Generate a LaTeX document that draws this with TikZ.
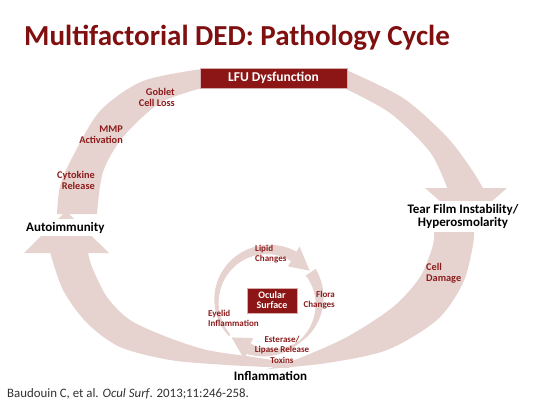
\documentclass[tikz,border=0pt]{standalone}
\usepackage{fontspec}
\setmainfont{Carlito}
\definecolor{bandc}{RGB}{230,211,207}
\definecolor{titred}{RGB}{128,16,16}
\definecolor{boxred}{RGB}{140,22,22}
\definecolor{lblred}{RGB}{140,28,28}
\definecolor{citegray}{RGB}{50,50,50}
\tikzset{
  band/.style={fill=bandc, draw=none},
  bigblack/.style={font=\fontsize{13}{13.5}\selectfont\bfseries, text=black, inner sep=0pt},
  outlbl/.style={font=\fontsize{10.3}{11.5}\selectfont\bfseries, text=lblred, inner sep=0pt},
  inlbl/.style={font=\fontsize{9}{10.5}\selectfont\bfseries, text=lblred, inner sep=0pt},
  redbox/.style={fill=boxred, text=white, inner sep=0pt, draw=boxred!35, line width=1pt},
  whitebg/.style={fill=white, inner xsep=2pt, inner ysep=3pt}
}
\begin{document}
\begin{tikzpicture}[x=1pt,y=-1pt]
\useasboundingbox (0,0) rectangle (540,405);

% ---- big cycle bands ----
% Autoimmunity -> LFU
\fill[band] plot[smooth] coordinates {(57,214) (60,186) (72,158) (100,111) (143,81) (202,69)}
  -- plot[smooth] coordinates {(202,88) (160,103) (123,137) (103,172) (97,214)} -- cycle;
% LFU -> Tear film
\fill[band] plot[smooth] coordinates {(344,69) (403,98) (447,137) (472,170) (484,190)}
  -- plot[smooth] coordinates {(448,190) (430,152) (390,113) (344,88)} -- cycle;
\fill[band] (425,188) -- (507,188) -- (466,224) -- cycle;
% Tear film -> Inflammation
\fill[band] plot[smooth] coordinates {(474,226) (473,245) (463,283) (437,320) (387,350) (327,363) (268,369)}
  -- plot[smooth] coordinates {(300,358) (347,337) (393,307) (420,277) (433,245) (434,226)} -- cycle;
% Inflammation -> Autoimmunity
\fill[band] plot[smooth] coordinates {(290,368) (227,365) (170,360) (120,347) (87,323) (63,290) (50,252)}
  -- plot[smooth] coordinates {(88,252) (92,267) (107,297) (130,320) (167,337) (207,350) (253,357) (285,362)} -- cycle;
\fill[band] (24,253) -- (109,253) -- (66,211) -- cycle;

% ---- inner cycle ----
\fill[band] plot[domain=222:60,samples=50] ({268+(51.5+1+4.5*(222-\x)/162)*cos(\x)},{301-(51.5+1+4.5*(222-\x)/162)*sin(\x)})
  -- plot[domain=60:222,samples=50] ({268+(51.5-1-4.5*(222-\x)/162)*cos(\x)},{301-(51.5-1-4.5*(222-\x)/162)*sin(\x)}) -- cycle;
\fill[band] ({268+63*cos(60)},{301-63*sin(60)}) -- ({268+51.5*cos(36)},{301-51.5*sin(36)}) -- ({268+40*cos(60)},{301-40*sin(60)}) -- cycle;
\fill[band] plot[domain=34:-62,samples=50] ({268+(51.5+0.3+5.7*(\x+62)/96)*cos(\x)},{301-(51.5+0.3+5.7*(\x+62)/96)*sin(\x)})
  -- plot[domain=-62:34,samples=50] ({268+(51.5-0.3-5.7*(\x+62)/96)*cos(\x)},{301-(51.5-0.3-5.7*(\x+62)/96)*sin(\x)}) -- cycle;
\fill[band] plot[domain=-48:-112,samples=40] ({268+(51.5+0.3+5.2*(-48-\x)/64)*cos(\x)},{301-(51.5+0.3+5.2*(-48-\x)/64)*sin(\x)})
  -- plot[domain=-112:-48,samples=40] ({268+(51.5-0.3-5.2*(-48-\x)/64)*cos(\x)},{301-(51.5-0.3-5.2*(-48-\x)/64)*sin(\x)}) -- cycle;
\fill[band] ({268+63*cos(-112)},{301-63*sin(-112)}) -- ({268+51.5*cos(-135)},{301-51.5*sin(-135)}) -- ({268+40*cos(-112)},{301-40*sin(-112)}) -- cycle;

% ---- title ----
\node[anchor=base west, inner sep=0pt, text=titred, font=\fontsize{29}{30}\selectfont\bfseries] (title) at (24,45.5) {Multifactorial DED: Pathology Cycle};

% ---- boxes ----
\node[redbox, minimum width=147pt, minimum height=20pt, font=\fontsize{13.5}{15}\selectfont\bfseries] (lfu) at (273.5,78) {LFU Dysfunction};
\node[redbox, minimum width=50pt, minimum height=25pt, align=center, font=\fontsize{10}{10}\selectfont\bfseries] (ocular) at (272,300.5) {Ocular\\Surface};

% ---- main labels ----
\node[bigblack, whitebg, anchor=base west] (auto) at (24,231) {Autoimmunity};
\node[bigblack, whitebg, anchor=north, align=center] (tear) at (463,200.9) {Tear Film Instability/\\Hyperosmolarity};
\node[bigblack, anchor=base] (infl) at (270.5,380.5) {Inflammation};

% ---- outer red labels ----
\node[outlbl, align=right, anchor=north east] (goblet) at (175,87.8) {Goblet\\Cell Loss};
\node[outlbl, align=right, anchor=north east] (mmp) at (123,125.4) {MMP\\Activation};
\node[outlbl, align=right, anchor=north east] (cyto) at (95,170.8) {Cytokine\\Release};
\node[outlbl, align=left, anchor=north west] (cell) at (426,262.8) {Cell\\Damage};

% ---- inner red labels ----
\node[inlbl, align=left, anchor=north west] (lipid) at (255,244.7) {Lipid\\Changes};
\node[inlbl, align=right, anchor=north east] (flora) at (335,290.7) {Flora\\Changes};
\node[inlbl, align=left, anchor=north west] (eyelid) at (208,309.7) {Eyelid\\Inflammation};
\node[inlbl, align=center, anchor=north] (ester) at (282,335.5) {Esterase/\\Lipase Release\\Toxins};

% ---- citation ----
\node[anchor=base west, inner sep=0pt, text=citegray, font=\fontsize{12.85}{14}\selectfont] (cite) at (7,397) {Baudouin C, et al. \textit{Ocul Surf}. 2013;11:246-258.};
\end{tikzpicture}
\end{document}
